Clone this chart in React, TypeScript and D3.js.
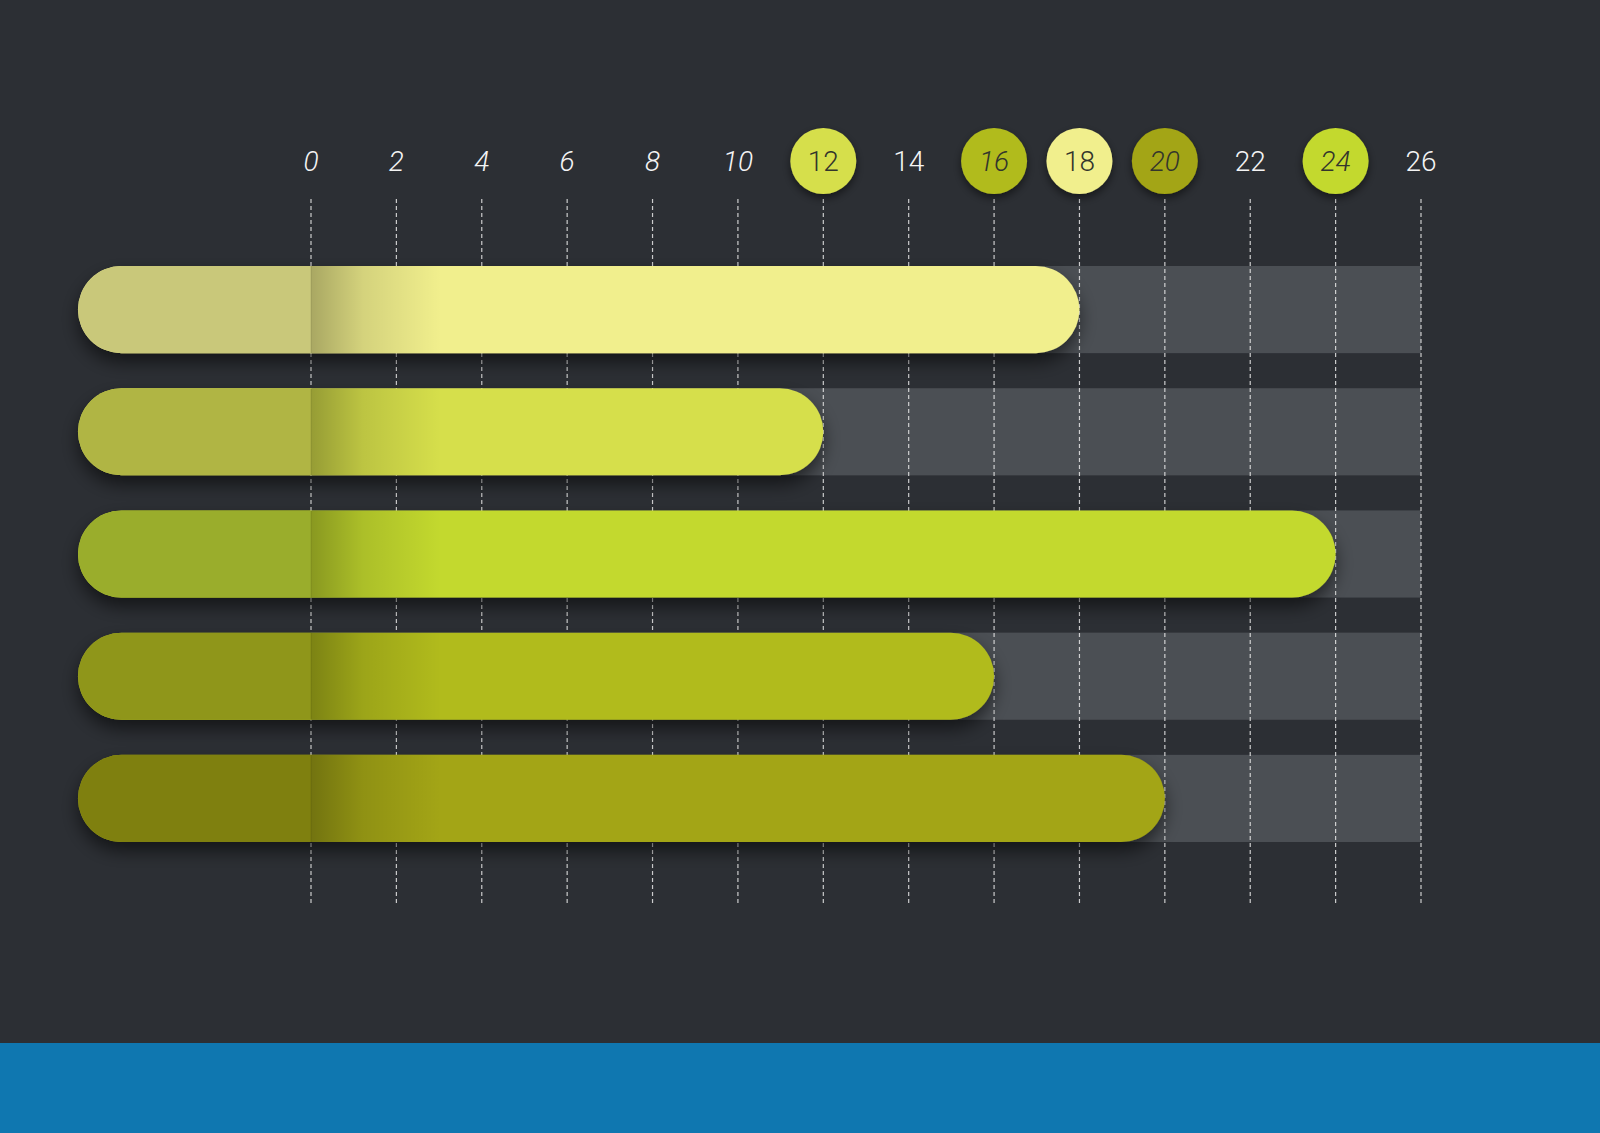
import { useMemo } from "react";
import * as d3 from "d3";

const width = 1600;
const height = 1133;

const barValues = [18, 12, 24, 16, 20];
const barColors = ["#f1ef8d", "#d6df4c", "#c3d92f", "#b1bb1e", "#a3a512"];
const barFoldColors = ["#c9c87a", "#b0b544", "#9aad2c", "#8f961a", "#7f800f"];
const tickValues = [0, 2, 4, 6, 8, 10, 12, 14, 16, 18, 20, 22, 24, 26];

const bg = "#2c2f34";
const track = "#4b4f54";
const font = "Roboto, 'Noto Sans', sans-serif";

export default function App() {
  const x = useMemo(() => d3.scaleLinear().domain([0, 26]).range([311, 1421]), []);
  const y = useMemo(
    () =>
      d3
        .scaleBand<number>()
        .domain(d3.range(barValues.length))
        .range([266, 842])
        .paddingInner(35 / 122)
        .paddingOuter(0),
    []
  );
  const barStart = 78;
  const bh = y.bandwidth();
  const r = bh / 2;

  return (
    <svg
      width={width}
      height={height}
      viewBox={`0 0 ${width} ${height}`}
      style={{ position: "absolute", left: 0, top: 0, display: "block" }}
    >
      <defs>
        <filter id="barShadow" x="-10%" y="-30%" width="120%" height="170%">
          <feDropShadow dx="0" dy="9" stdDeviation="9" floodColor="#000" floodOpacity="0.55" />
        </filter>
        <filter id="dotShadow" x="-40%" y="-40%" width="180%" height="190%">
          <feDropShadow dx="0" dy="4" stdDeviation="4" floodColor="#000" floodOpacity="0.5" />
        </filter>
        <linearGradient id="fold" x1="0" x2="1" y1="0" y2="0">
          <stop offset="0" stopColor="#000" stopOpacity="0.3" />
          <stop offset="0.4" stopColor="#000" stopOpacity="0.12" />
          <stop offset="1" stopColor="#000" stopOpacity="0" />
        </linearGradient>
        {barValues.map((v, i) => (
          <clipPath id={`clip-${i}`} key={i}>
            <rect x={barStart} y={y(i)} width={x(v) - barStart} height={bh} rx={r} ry={r} />
          </clipPath>
        ))}
      </defs>

      <rect width={width} height={height} fill={bg} />

      {/* background tracks */}
      {barValues.map((_, i) => (
        <rect key={i} x={x(0)} y={y(i)} width={x(26) - x(0)} height={bh} fill={track} />
      ))}

      {/* grid */}
      {tickValues.map((t) => (
        <line
          key={t}
          x1={x(t)}
          x2={x(t)}
          y1={199}
          y2={903}
          stroke="#e8e8e8"
          strokeWidth={1.2}
          strokeDasharray="4 3"
          opacity={0.85}
        />
      ))}

      {/* bars */}
      {barValues.map((v, i) => (
        <g key={i}>
          <rect
            x={barStart}
            y={y(i)}
            width={x(v) - barStart}
            height={bh}
            rx={r}
            ry={r}
            fill={barColors[i]}
            filter="url(#barShadow)"
          />
          <g clipPath={`url(#clip-${i})`}>
            <rect x={barStart} y={y(i)} width={x(0) - barStart} height={bh} fill={barFoldColors[i]} />
            <rect x={x(0)} y={y(i)} width={130} height={bh} fill="url(#fold)" />
            <line x1={x(0)} x2={x(0)} y1={y(i)} y2={(y(i) ?? 0) + bh} stroke="#000" strokeOpacity={0.1} />
          </g>
        </g>
      ))}

      {/* tick labels */}
      {tickValues.map((t) => {
        const hit = barValues.indexOf(t);
        return (
          <g key={t} transform={`translate(${x(t)},161)`}>
            {hit >= 0 && <circle r={33} fill={barColors[hit]} filter="url(#dotShadow)" />}
            <text
              textAnchor="middle"
              dy="0.36em"
              fontFamily={font}
              fontWeight={300}
              fontStyle={t <= 10 || t === 16 || t === 20 || t === 24 ? "italic" : "normal"}
              fontSize={28}
              fill={hit >= 0 ? "#33352c" : "#f4f4f4"}
            >
              {t}
            </text>
          </g>
        );
      })}

      <rect x={0} y={1043} width={width} height={height - 1043} fill="#0f77b0" />
    </svg>
  );
}
